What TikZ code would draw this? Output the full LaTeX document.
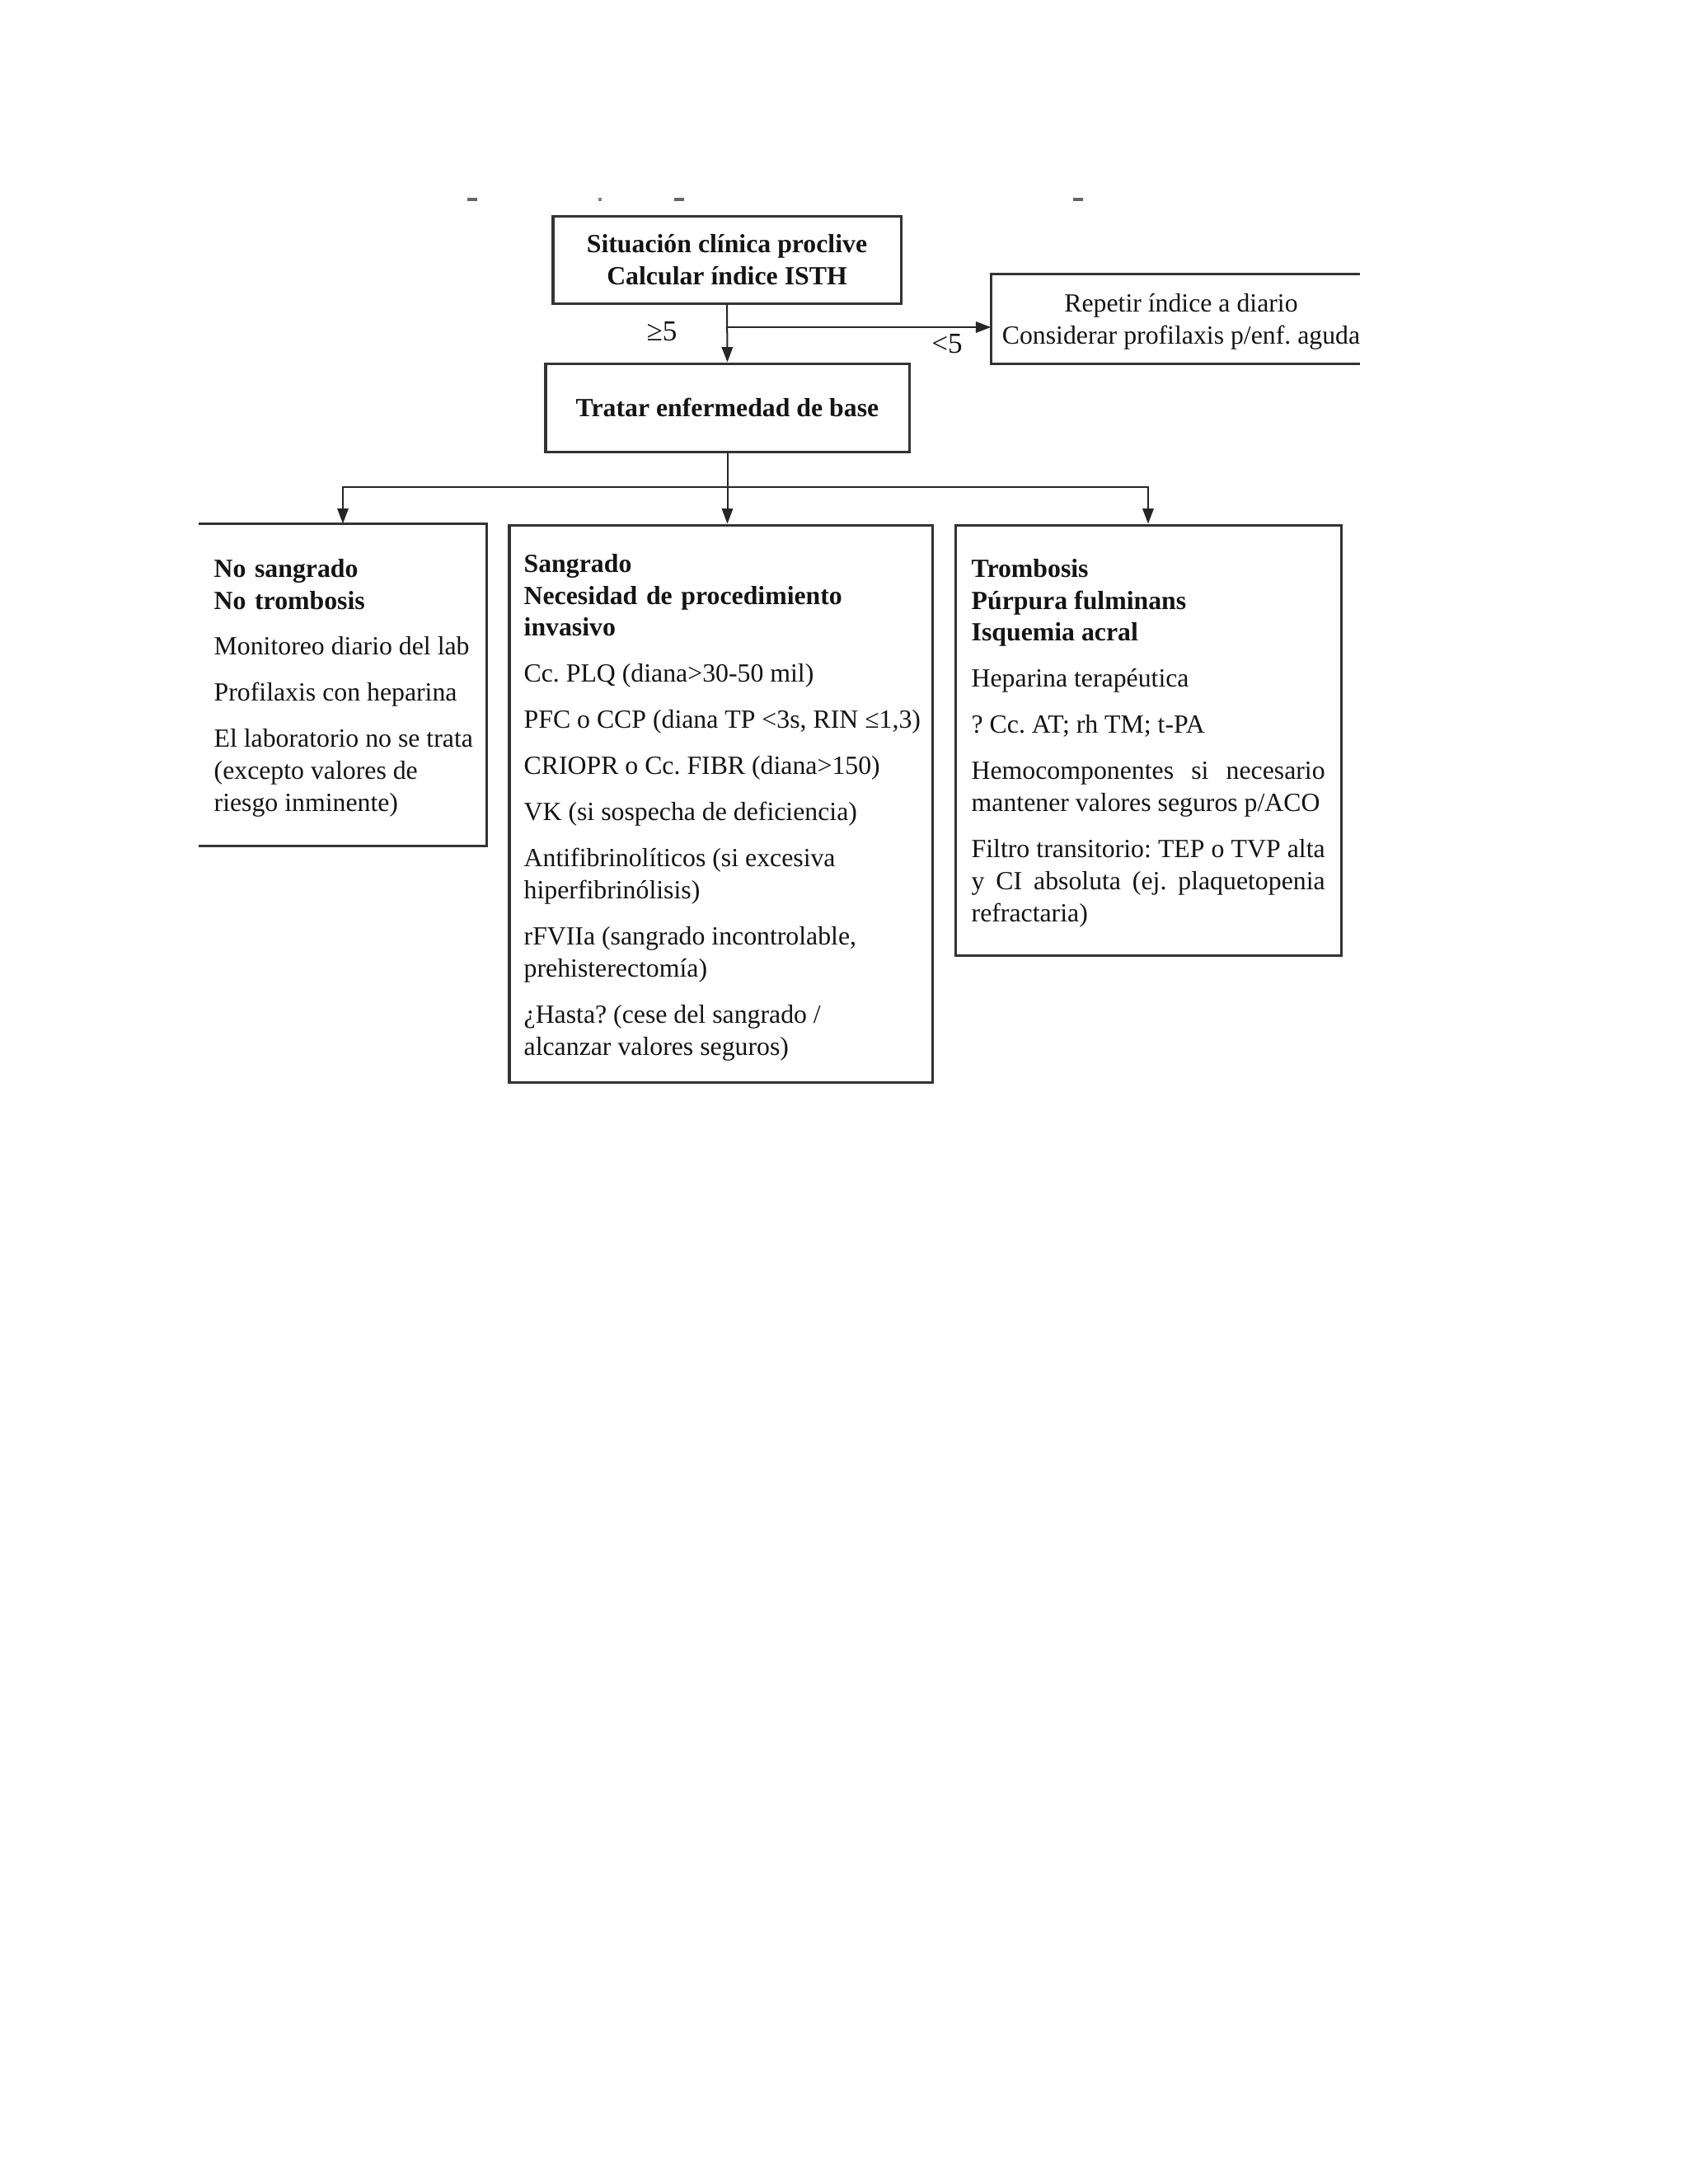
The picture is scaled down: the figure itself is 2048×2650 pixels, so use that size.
\documentclass[tikz,border=0pt]{standalone}
\usepackage{fontspec}
\setmainfont{Liberation Serif}
\usetikzlibrary{arrows.meta}

\newcommand{\pxu}{0.298828pt}
\newcommand{\pgap}{\par\vspace{5.05pt}}
\newcommand{\hdgap}{\par\vspace{5.05pt}\spaceskip=0pt\relax}
\frenchspacing

\begin{document}
\begin{tikzpicture}[x=\pxu, y=-\pxu,
    every node/.style={font=\fontsize{9.5}{11.65}\selectfont, text=black!92},
    bold/.style={font=\fontsize{9.5}{11.65}\selectfont\bfseries},
    box/.style={draw=black!80, line width=0.9pt, inner sep=0pt},
    boxline/.style={draw=black!80, line width=0.9pt},
    arr/.style={draw=black!85, line width=0.6pt, -{Triangle[length=5.5pt,width=4pt]}},
    txt/.style={anchor=base west, inner sep=0pt, align=left},
    lbl/.style={font=\fontsize{10.5}{12}\selectfont, inner sep=0pt}]
    \useasboundingbox (0,0) rectangle (2048,2650);

    % leftover marks above the chart
    \foreach \mx in {573,824,1308}
      \fill[black!60] (\mx-6,240) rectangle (\mx+6,244);
    \fill[black!50] (726,240) rectangle (730,244);

    % top of the chart
    \node[box, bold, align=center, minimum width=422*\pxu, minimum height=106*\pxu] (sit) at (882,315)
      {Situación clínica proclive\\Calcular índice ISTH};
    \node[inner sep=0pt, minimum width=446*\pxu, minimum height=108*\pxu] (rep) at (1426,387) {};
    \draw[boxline] (rep.north east) -- (rep.north west) -- (rep.south west) -- (rep.south east);
    \node[inner sep=0pt, align=center] (reptxt) at (1433,390)
      {Repetir índice a diario\\Considerar profilaxis p/enf. aguda};
    \node[box, bold, minimum width=441*\pxu, minimum height=107*\pxu] (trat) at (882.5,494.5)
      {Tratar enfermedad de base};

    \coordinate (split) at (882,397);
    \coordinate (fork) at (882,591);
    \draw[arr] (sit.south) -- (trat.north);
    \draw[arr] (split) -- (split -| rep.west);
    \node[lbl] (ge) at (803,402) {≥5};
    \node[lbl] (lt) at (1149,417) {<5};

    % three branches
    \node[inner sep=0pt, minimum width=348*\pxu, minimum height=390*\pxu] (nosang) at (416,831) {};
    \draw[boxline] (nosang.north west) -- (nosang.north east) -- (nosang.south east) -- (nosang.south west);
    \node[box, minimum width=513*\pxu, minimum height=676*\pxu] (sang) at (874.5,975) {};
    \node[box, minimum width=468*\pxu, minimum height=522*\pxu] (trom) at (1393,898) {};

    \draw[arr] (trat.south) -- (trat.south |- sang.north);
    \draw[arr] (fork) -| (nosang.north);
    \draw[arr] (fork) -| (trom.north);

    \node[txt, text width=330*\pxu] (nosangtxt) at (259,700)
      {\textbf{No sangrado\\No trombosis}\hdgap
       Monitoreo diario del lab\pgap
       Profilaxis con heparina\pgap
       El laboratorio no se trata\\(excepto valores de\\riesgo inminente)};
    \node[txt, text width=500*\pxu] (sangtxt) at (635,694)
      {\textbf{Sangrado\\Necesidad de procedimiento\\invasivo}\hdgap
       Cc. PLQ (diana>30-50 mil)\pgap
       PFC o CCP (diana TP <3s, RIN ≤1,3)\pgap
       CRIOPR o Cc. FIBR (diana>150)\pgap
       VK (si sospecha de deficiencia)\pgap
       Antifibrinolíticos (si excesiva\\hiperfibrinólisis)\pgap
       rFVIIa (sangrado incontrolable,\\prehisterectomía)\pgap
       ¿Hasta? (cese del sangrado /\\alcanzar valores seguros)};
    \node[txt, align=justify, text width=429*\pxu] (tromtxt) at (1178,700)
      {\textbf{Trombosis\\Púrpura fulminans\\Isquemia acral}\pgap
       Heparina terapéutica\pgap
       ? Cc. AT; rh TM; t-PA\pgap
       Hemocomponentes si necesario\linebreak mantener valores seguros p/ACO\pgap
       Filtro transitorio: TEP o TVP alta\linebreak y CI absoluta (ej. plaquetopenia\linebreak refractaria)};
\end{tikzpicture}
\end{document}
